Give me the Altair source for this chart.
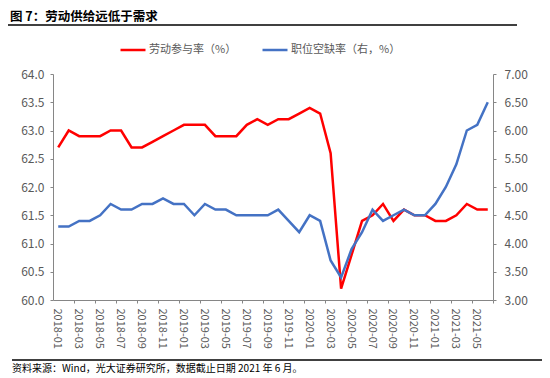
import altair as alt
import pandas as pd

months = ['2018-01', '2018-02', '2018-03', '2018-04', '2018-05', '2018-06',
          '2018-07', '2018-08', '2018-09', '2018-10', '2018-11', '2018-12',
          '2019-01', '2019-02', '2019-03', '2019-04', '2019-05', '2019-06',
          '2019-07', '2019-08', '2019-09', '2019-10', '2019-11', '2019-12',
          '2020-01', '2020-02', '2020-03', '2020-04', '2020-05', '2020-06',
          '2020-07', '2020-08', '2020-09', '2020-10', '2020-11', '2020-12',
          '2021-01', '2021-02', '2021-03', '2021-04', '2021-05', '2021-06']

lfpr = [62.7, 63.0, 62.9, 62.9, 62.9, 63.0, 63.0, 62.7, 62.7, 62.8, 62.9, 63.0,
        63.1, 63.1, 63.1, 62.9, 62.9, 62.9, 63.1, 63.2, 63.1, 63.2, 63.2, 63.3,
        63.4, 63.3, 62.6, 60.2, 60.8, 61.4, 61.5, 61.7, 61.4, 61.6, 61.5, 61.5,
        61.4, 61.4, 61.5, 61.7, 61.6, 61.6]

jor = [4.3, 4.3, 4.4, 4.4, 4.5, 4.7, 4.6, 4.6, 4.7, 4.7, 4.8, 4.7,
       4.7, 4.5, 4.7, 4.6, 4.6, 4.5, 4.5, 4.5, 4.5, 4.6, 4.4, 4.2,
       4.5, 4.4, 3.7, 3.4, 3.9, 4.2, 4.6, 4.4, 4.5, 4.6, 4.5, 4.5,
       4.7, 5.0, 5.4, 6.0, 6.1, 6.5]

tick_labels = months[::2]
series_names = ['劳动参与率（%）', '职位空缺率（右，%）']
series_colors = ['#FF0000', '#4472C4']
title_text = '图 7：劳动供给远低于需求'
source_text = '资料来源：Wind，光大证券研究所，数据截止日期 2021 年 6 月。'
left_ticks = [60.0, 60.5, 61.0, 61.5, 62.0, 62.5, 63.0, 63.5, 64.0]
right_ticks = [3.0, 3.5, 4.0, 4.5, 5.0, 5.5, 6.0, 6.5, 7.0]

FONT = 'Noto Sans CJK SC'
W, H = 440, 226
X0, Y0 = 53, 74   # page position of the plot origin
n = len(months)

df_red = pd.DataFrame({'idx': list(range(n)), 'month': months, 'value': lfpr,
                       'series': [series_names[0]] * n})
df_blue = pd.DataFrame({'idx': list(range(n)), 'month': months, 'value': jor,
                        'series': [series_names[1]] * n})

label_array = '[' + ','.join("'" + s + "'" for s in tick_labels) + ']'
band = W / n

x_enc = alt.X(
    'idx:Q',
    scale=alt.Scale(domain=[-0.5, n - 0.5], nice=False, zero=False),
    axis=alt.Axis(
        values=[i * 2 + 1.5 for i in range(len(tick_labels))],
        labelExpr=label_array + '[floor(datum.value / 2)]',
        labelAngle=90, labelAlign='left', labelBaseline='middle',
        labelOffset=-1.5 * band - 1.5, labelPadding=5, labelOverlap=False,
        labelFontSize=11, labelColor='#595959', labelFont=FONT,
        tickSize=3, tickColor='#868686', domainColor='#868686',
        grid=False, title=None,
    ),
)

color_scale = alt.Scale(domain=series_names, range=series_colors)

red = alt.Chart(df_red).mark_line(strokeWidth=2.5).encode(
    x=x_enc,
    y=alt.Y('value:Q', scale=alt.Scale(domain=[60, 64], nice=False, zero=False),
            axis=alt.Axis(values=left_ticks, format='.1f', orient='left', title=None,
                          labelFontSize=12, labelColor='#595959', labelFont=FONT,
                          labelPadding=6, tickSize=3, tickColor='#868686',
                          domainColor='#868686', grid=False)),
    color=alt.Color('series:N', scale=color_scale,
                    legend=alt.Legend(
                        title=None, orient='none', direction='horizontal',
                        legendX=66, legendY=-38,
                        symbolType='stroke', symbolSize=625, symbolStrokeWidth=2.5,
                        labelFontSize=11, labelColor='#595959', labelFont=FONT,
                        labelOffset=2, columnPadding=20)),
)

blue = alt.Chart(df_blue).mark_line(strokeWidth=2.5).encode(
    x=x_enc,
    y=alt.Y('value:Q', scale=alt.Scale(domain=[3, 7], nice=False, zero=False),
            axis=alt.Axis(values=right_ticks, format='.2f', orient='right', title=None,
                          labelFontSize=12, labelColor='#595959', labelFont=FONT,
                          labelPadding=8, tickSize=3, tickColor='#868686',
                          domainColor='#868686', grid=False)),
    color=alt.Color('series:N', scale=color_scale),
)

deco = pd.DataFrame({'t': [title_text]})
src = pd.DataFrame({'t': [source_text]})

title_mark = alt.Chart(deco).mark_text(
    align='left', baseline='middle', fontSize=12.5, fontWeight='bold',
    font=FONT, color='#000000'
).encode(text='t:N', x=alt.value(10 - X0), y=alt.value(17 - Y0))

source_mark = alt.Chart(src).mark_text(
    align='left', baseline='middle', fontSize=10, font=FONT, color='#000000'
).encode(text='t:N', x=alt.value(12 - X0), y=alt.value(369 - Y0))

top_rule = alt.Chart(deco).mark_rule(color='#000000', strokeWidth=1.5).encode(
    x=alt.value(3 - X0), x2=alt.value(517 - X0),
    y=alt.value(25 - Y0), y2=alt.value(25 - Y0))

bottom_rule = alt.Chart(src).mark_rule(color='#000000', strokeWidth=1.5).encode(
    x=alt.value(12 - X0), x2=alt.value(543 - X0),
    y=alt.value(360 - Y0), y2=alt.value(360 - Y0))

chart = alt.layer(red, blue, title_mark, source_mark, top_rule, bottom_rule).resolve_scale(
    y='independent'
).properties(
    width=W, height=H,
    autosize=alt.AutoSizeParams(type='none'),
    padding={'left': X0 - 8, 'top': Y0 - 8, 'right': 49, 'bottom': 78},
    background='white',
).configure_view(stroke=None)

chart.save('out.html', embed_options={'renderer': 'svg', 'actions': False})
